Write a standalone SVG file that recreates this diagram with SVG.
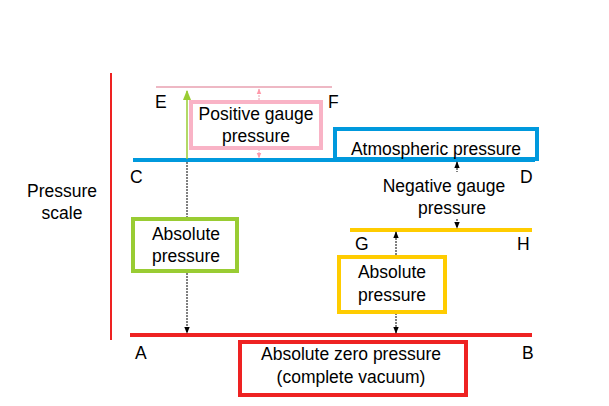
<svg xmlns="http://www.w3.org/2000/svg" width="609" height="406" viewBox="0 0 609 406">
<style>
text{font-family:"Liberation Sans",Arial,sans-serif;font-size:17.5px;fill:#000}
.m{text-anchor:middle}
.box{fill:#fff;stroke-width:4}
.c{stroke:#000;stroke-width:1;stroke-dasharray:2,1}
</style>
<defs>
<marker id="a" viewBox="0 0 10 10" refX="9" refY="5" markerWidth="7" markerHeight="8" orient="auto-start-reverse"><path d="M0,1L10,5L0,9z" fill="#000"/></marker>
<marker id="g" viewBox="0 0 10 10" refX="9" refY="5" markerWidth="7" markerHeight="8" orient="auto-start-reverse"><path d="M0,1L10,5L0,9z" fill="#9c3"/></marker>
<marker id="p" viewBox="0 0 10 10" refX="9" refY="5" markerWidth="6" markerHeight="6" orient="auto-start-reverse"><path d="M0,1L10,5L0,9z" fill="#f9a"/></marker>
</defs>
<rect width="609" height="406" fill="#fff"/>
<g id="scale">
<line x1="111" y1="73" x2="111" y2="340" stroke="#e22" stroke-width="2"/>
<text x="62" y="197" class="m">Pressure</text>
<text x="62" y="219" class="m">scale</text>
</g>
<g id="connectors">
<line x1="156" y1="87" x2="332" y2="87" stroke="#e8a0b0" stroke-width="1.5"/>
<line x1="133" y1="160" x2="535" y2="160" stroke="#09d" stroke-width="4"/>
<line x1="350" y1="230" x2="532" y2="230" stroke="#fc0" stroke-width="4"/>
<line x1="130" y1="335" x2="532" y2="335" stroke="#e22" stroke-width="4"/>
<line x1="187" y1="159" x2="187" y2="91" stroke="#9c3" stroke-width="1.5" marker-end="url(#g)"/>
<line x1="187" y1="162" x2="187" y2="333" class="c" marker-end="url(#a)"/>
<line x1="259" y1="89" x2="259" y2="158" stroke="#e8a0b0" stroke-width="1" stroke-dasharray="2,1" marker-start="url(#p)" marker-end="url(#p)"/>
<line x1="457" y1="162" x2="457" y2="228" class="c" marker-start="url(#a)" marker-end="url(#a)"/>
<line x1="396" y1="232" x2="396" y2="333" class="c" marker-start="url(#a)" marker-end="url(#a)"/>
</g>
<g id="pos"><rect x="191" y="102" width="130" height="46" class="box" stroke="#f9b3c6"/>
<text x="256" y="120" class="m">Positive gauge</text><text x="256" y="142" class="m">pressure</text></g>
<g id="atm"><rect x="335" y="129" width="202" height="30" class="box" stroke="#09d"/>
<text x="436" y="155" class="m">Atmospheric pressure</text></g>
<g id="neg"><rect x="383" y="172" width="126" height="46" fill="#fff"/><text x="444" y="192" class="m">Negative gauge</text><text x="452" y="214" class="m">pressure</text></g>
<g id="absg"><rect x="133" y="219" width="104" height="52" class="box" stroke="#9c3"/>
<text x="186" y="240" class="m">Absolute</text><text x="186" y="262" class="m">pressure</text></g>
<g id="absy"><rect x="339" y="257" width="106" height="55" class="box" stroke="#fc0"/>
<text x="392" y="278" class="m">Absolute</text><text x="392" y="301" class="m">pressure</text></g>
<g id="zero"><rect x="240" y="342" width="226" height="53" class="box" stroke="#e22"/>
<text x="351" y="360" class="m">Absolute zero pressure</text><text x="351" y="383" class="m">(complete vacuum)</text></g>
<g id="labels">
<text x="155" y="108">E</text><text x="328" y="108">F</text>
<text x="130" y="183">C</text><text x="520" y="183">D</text>
<text x="355" y="250">G</text><text x="517" y="250">H</text>
<text x="135" y="359">A</text><text x="522" y="359">B</text>
</g>
</svg>
